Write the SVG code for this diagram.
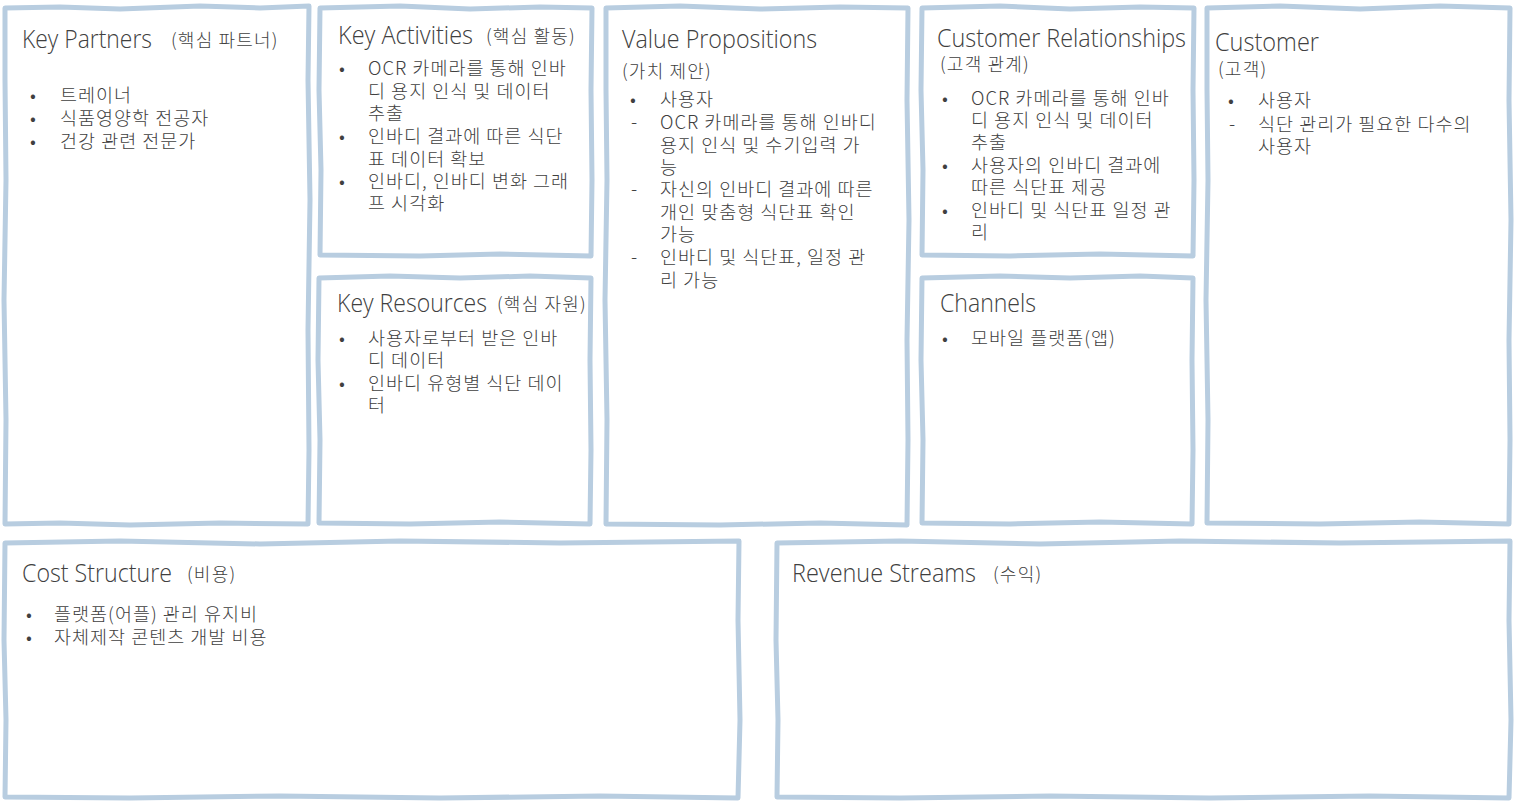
<svg xmlns="http://www.w3.org/2000/svg" width="1515" height="802" viewBox="0 0 1515 802">
<style>
.frame{fill:#ffffff;stroke:#b8cde0;stroke-width:5;stroke-linejoin:round}
.h{font-family:"Open Sans","Noto Sans CJK KR",sans-serif;font-weight:300;font-size:25px;fill:#404040}
.s{font-family:"Noto Sans CJK KR","Open Sans",sans-serif;font-weight:300;font-size:18px;letter-spacing:1.2px;fill:#404040}
.t{font-family:"Noto Sans CJK KR","Open Sans",sans-serif;font-weight:300;font-size:18.5px;letter-spacing:1px;fill:#404040}
</style>
<rect width="1515" height="802" fill="#ffffff"/>
<g id="key-partners">
<path class="frame" d="M5,8 L60,7 L120,9 L200,6 L260,8 L309,6 L308,80 L310,200 L308,330 L309,450 L308,524 L220,523 L130,525 L60,523 L5,524 L6,420 L4,300 L6,180 L5,80 Z"/>
<text class="h" x="22" y="48" textLength="130" lengthAdjust="spacingAndGlyphs">Key Partners</text>
<text class="s" x="171" y="47">(핵심 파트너)</text>
<text class="t" x="30" y="102">•</text><text class="t" x="60" y="102">트레이너</text>
<text class="t" x="30" y="125">•</text><text class="t" x="60" y="125">식품영양학 전공자</text>
<text class="t" x="30" y="148">•</text><text class="t" x="60" y="148">건강 관련 전문가</text>
</g>
<g id="key-activities">
<path class="frame" d="M320,8 L400,6 L470,9 L540,7 L592,8 L591,90 L592,180 L591,256 L500,254 L420,256 L320,255 L321,170 L319,90 Z"/>
<text class="h" x="338" y="44" textLength="135" lengthAdjust="spacingAndGlyphs">Key Activities</text>
<text class="s" x="486" y="43">(핵심 활동)</text>
<text class="t" x="339" y="75">•</text><text class="t" x="368" y="75">OCR 카메라를 통해 인바</text>
<text class="t" x="368" y="98">디 용지 인식 및 데이터</text>
<text class="t" x="368" y="120">추출</text>
<text class="t" x="339" y="143">•</text><text class="t" x="368" y="143">인바디 결과에 따른 식단</text>
<text class="t" x="368" y="166">표 데이터 확보</text>
<text class="t" x="339" y="188">•</text><text class="t" x="368" y="188">인바디, 인바디 변화 그래</text>
<text class="t" x="368" y="210">프 시각화</text>
</g>
<g id="key-resources">
<path class="frame" d="M319,278 L390,276 L460,278 L530,276 L591,278 L590,360 L591,450 L590,524 L500,522 L410,524 L319,523 L320,440 L318,360 Z"/>
<text class="h" x="337" y="312" textLength="150" lengthAdjust="spacingAndGlyphs">Key Resources</text>
<text class="s" x="497" y="311">(핵심 자원)</text>
<text class="t" x="339" y="345">•</text><text class="t" x="368" y="345">사용자로부터 받은 인바</text>
<text class="t" x="368" y="367">디 데이터</text>
<text class="t" x="339" y="390">•</text><text class="t" x="368" y="390">인바디 유형별 식단 데이</text>
<text class="t" x="368" y="412">터</text>
</g>
<g id="value-propositions">
<path class="frame" d="M606,8 L680,6 L760,9 L840,7 L908,8 L907,100 L909,220 L907,340 L908,440 L907,525 L820,523 L720,525 L606,524 L607,420 L605,300 L607,180 L606,90 Z"/>
<text class="h" x="622" y="48" textLength="195" lengthAdjust="spacingAndGlyphs">Value Propositions</text>
<text class="s" x="622" y="78">(가치 제안)</text>
<text class="t" x="630" y="106">•</text><text class="t" x="660" y="106">사용자</text>
<text class="t" x="631" y="129">-</text><text class="t" x="660" y="129">OCR 카메라를 통해 인바디</text>
<text class="t" x="660" y="152">용지 인식 및 수기입력 가</text>
<text class="t" x="660" y="174">능</text>
<text class="t" x="631" y="196">-</text><text class="t" x="660" y="196">자신의 인바디 결과에 따른</text>
<text class="t" x="660" y="219">개인 맞춤형 식단표 확인</text>
<text class="t" x="660" y="241">가능</text>
<text class="t" x="631" y="264">-</text><text class="t" x="660" y="264">인바디 및 식단표, 일정 관</text>
<text class="t" x="660" y="287">리 가능</text>
</g>
<g id="customer-relationships">
<path class="frame" d="M922,8 L1000,6 L1070,9 L1140,7 L1194,8 L1193,90 L1194,180 L1193,256 L1100,254 L1010,256 L922,255 L923,170 L921,90 Z"/>
<text class="h" x="937" y="47" textLength="249" lengthAdjust="spacingAndGlyphs">Customer Relationships</text>
<text class="s" x="940" y="71">(고객 관계)</text>
<text class="t" x="942" y="105">•</text><text class="t" x="971" y="105">OCR 카메라를 통해 인바</text>
<text class="t" x="971" y="127">디 용지 인식 및 데이터</text>
<text class="t" x="971" y="149">추출</text>
<text class="t" x="942" y="172">•</text><text class="t" x="971" y="172">사용자의 인바디 결과에</text>
<text class="t" x="971" y="194">따른 식단표 제공</text>
<text class="t" x="942" y="217">•</text><text class="t" x="971" y="217">인바디 및 식단표 일정 관</text>
<text class="t" x="971" y="239">리</text>
</g>
<g id="channels">
<path class="frame" d="M922,278 L1000,276 L1070,278 L1140,276 L1193,278 L1192,360 L1193,450 L1192,524 L1100,522 L1010,524 L922,523 L923,440 L921,360 Z"/>
<text class="h" x="940" y="312" textLength="96" lengthAdjust="spacingAndGlyphs">Channels</text>
<text class="t" x="942" y="345">•</text><text class="t" x="971" y="345">모바일 플랫폼(앱)</text>
</g>
<g id="customer">
<path class="frame" d="M1207,8 L1280,6 L1360,9 L1440,6 L1510,8 L1509,100 L1511,220 L1509,340 L1510,440 L1509,524 L1420,522 L1320,524 L1207,523 L1208,420 L1206,300 L1208,180 L1207,90 Z"/>
<text class="h" x="1215" y="51" textLength="104" lengthAdjust="spacingAndGlyphs">Customer</text>
<text class="s" x="1218" y="76">(고객)</text>
<text class="t" x="1228" y="107">•</text><text class="t" x="1258" y="107">사용자</text>
<text class="t" x="1229" y="131">-</text><text class="t" x="1258" y="131">식단 관리가 필요한 다수의</text>
<text class="t" x="1258" y="153">사용자</text>
</g>
<g id="cost-structure">
<path class="frame" d="M5,543 L120,541 L260,544 L400,541 L560,543 L739,541 L738,620 L740,720 L738,798 L600,796 L440,798 L280,796 L130,798 L5,797 L6,720 L4,640 Z"/>
<text class="h" x="22" y="582" textLength="150" lengthAdjust="spacingAndGlyphs">Cost Structure</text>
<text class="s" x="187" y="581">(비용)</text>
<text class="t" x="26" y="621">•</text><text class="t" x="54" y="621">플랫폼(어플) 관리 유지비</text>
<text class="t" x="26" y="644">•</text><text class="t" x="54" y="644">자체제작 콘텐츠 개발 비용</text>
</g>
<g id="revenue-streams">
<path class="frame" d="M777,543 L900,541 L1040,544 L1180,541 L1340,543 L1510,541 L1509,620 L1511,720 L1509,798 L1370,796 L1210,798 L1050,796 L900,798 L777,797 L778,720 L776,640 Z"/>
<text class="h" x="792" y="582" textLength="184" lengthAdjust="spacingAndGlyphs">Revenue Streams</text>
<text class="s" x="993" y="581">(수익)</text>
</g>
<g id="connectors"/>
</svg>
